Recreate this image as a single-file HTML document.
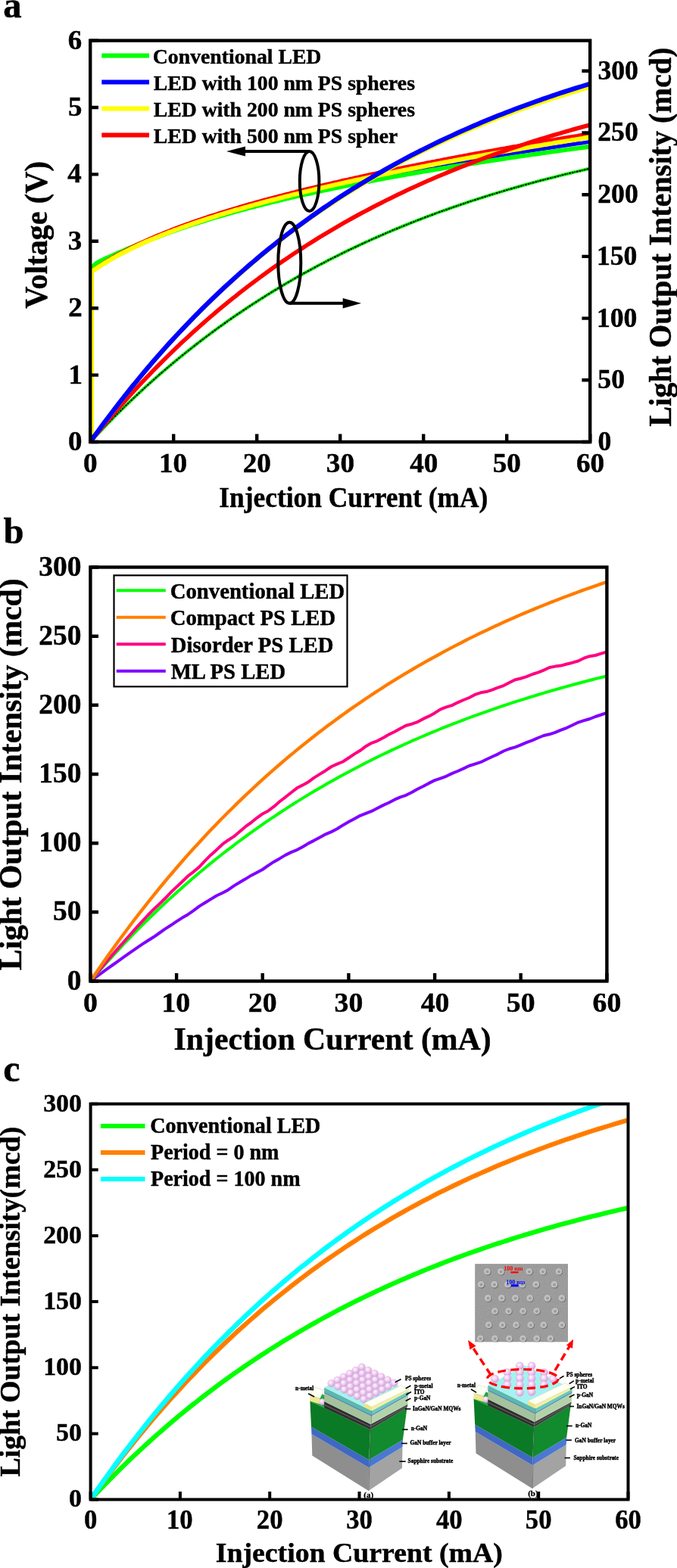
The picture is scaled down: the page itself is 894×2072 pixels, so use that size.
<!DOCTYPE html>
<html><head><meta charset="utf-8"><style>
html,body{margin:0;padding:0;background:#fff;width:894px;height:2072px;overflow:hidden}
svg{display:block}
text{font-family:'Liberation Serif',serif;font-weight:bold}
text.m{stroke:#000;stroke-width:0.45px}
</style></head><body>
<svg width="894" height="2072" viewBox="0 0 894 2072">
<rect width="894" height="2072" fill="#fff"/>
<text class="m" transform="translate(4.33 23.30) scale(1.0000 1)" font-size="48.80">a</text>
<g fill="none" stroke-linejoin="round" stroke-linecap="butt">
<path d="M121.0 584.0L120.9 359.0L124.2 356.7L127.5 354.5L130.8 352.3L134.1 350.2L137.4 348.1L140.7 346.1L144.0 344.2L147.3 342.2L150.6 340.4L153.9 338.5L157.2 336.8L160.5 335.0L163.9 333.3L167.2 331.6L170.5 330.0L173.8 328.3L177.1 326.8L180.4 325.2L183.7 323.7L187.0 322.2L190.3 320.7L193.6 319.2L196.9 317.8L200.2 316.4L203.6 315.0L206.9 313.6L210.2 312.3L213.5 311.0L216.8 309.6L220.1 308.4L223.4 307.1L226.7 305.8L230.0 304.6L233.3 303.4L236.6 302.2L239.9 301.0L243.3 299.8L246.6 298.6L249.9 297.5L253.2 296.3L256.5 295.2L259.8 294.1L263.1 293.0L266.4 291.9L269.7 290.8L273.0 289.8L276.3 288.7L279.6 287.7L283.0 286.6L286.3 285.6L289.6 284.6L292.9 283.6L296.2 282.6L299.5 281.6L302.8 280.7L306.1 279.7L309.4 278.7L312.7 277.8L316.0 276.8L319.3 275.9L322.7 275.0L326.0 274.1L329.3 273.2L332.6 272.3L335.9 271.4L339.2 270.5L342.5 269.6L345.8 268.7L349.1 267.9L352.4 267.0L355.7 266.1L359.0 265.3L362.4 264.5L365.7 263.6L369.0 262.8L372.3 262.0L375.6 261.2L378.9 260.3L382.2 259.5L385.5 258.7L388.8 257.9L392.1 257.2L395.4 256.4L398.7 255.6L402.1 254.8L405.4 254.0L408.7 253.3L412.0 252.5L415.3 251.8L418.6 251.0L421.9 250.3L425.2 249.5L428.5 248.8L431.8 248.1L435.1 247.3L438.4 246.6L441.8 245.9L445.1 245.2L448.4 244.5L451.7 243.8L455.0 243.1L458.3 242.4L461.6 241.7L464.9 241.0L468.2 240.3L471.5 239.6L474.8 238.9L478.1 238.2L481.5 237.6L484.8 236.9L488.1 236.2L491.4 235.6L494.7 234.9L498.0 234.2L501.3 233.6L504.6 232.9L507.9 232.3L511.2 231.7L514.5 231.0L517.8 230.4L521.2 229.7L524.5 229.1L527.8 228.5L531.1 227.9L534.4 227.2L537.7 226.6L541.0 226.0L544.3 225.4L547.6 224.8L550.9 224.2L554.2 223.6L557.5 222.9L560.9 222.3L564.2 221.8L567.5 221.2L570.8 220.6L574.1 220.0L577.4 219.4L580.7 218.8L584.0 218.2L587.3 217.6L590.6 217.1L593.9 216.5L597.2 215.9L600.6 215.3L603.9 214.8L607.2 214.2L610.5 213.6L613.8 213.1L617.1 212.5L620.4 212.0L623.7 211.4L627.0 210.9L630.3 210.3L633.6 209.8L636.9 209.2L640.3 208.7L643.6 208.1L646.9 207.6L650.2 207.0L653.5 206.5L656.8 206.0L660.1 205.4L663.4 204.9L666.7 204.4L670.0 203.8L673.3 203.3L676.6 202.8L680.0 202.3L683.3 201.8L686.6 201.2L689.9 200.7L693.2 200.2L696.5 199.7L699.8 199.2L703.1 198.7L706.4 198.2L709.7 197.7L713.0 197.2L716.3 196.7L719.7 196.2L723.0 195.7L726.3 195.2L729.6 194.7L732.9 194.2L736.2 193.7L739.5 193.2L742.8 192.7L746.1 192.2L749.4 191.7L752.7 191.3L756.0 190.8L759.4 190.3L762.7 189.8L766.0 189.3L769.3 188.9L772.6 188.4L775.9 187.9L779.2 187.4" stroke="#0000ff" stroke-width="5.0"/>
<path d="M121.0 584.0L120.9 355.8L124.2 350.7L127.5 347.8L130.8 345.8L134.1 344.2L137.4 342.6L140.7 341.1L144.0 339.7L147.3 338.2L150.6 336.7L153.9 335.3L157.2 333.8L160.5 332.4L163.9 331.0L167.2 329.5L170.5 328.1L173.8 326.7L177.1 325.4L180.4 324.0L183.7 322.6L187.0 321.3L190.3 319.9L193.6 318.6L196.9 317.3L200.2 316.0L203.6 314.7L206.9 313.4L210.2 312.2L213.5 310.9L216.8 309.7L220.1 308.5L223.4 307.3L226.7 306.1L230.0 304.9L233.3 303.8L236.6 302.6L239.9 301.5L243.3 300.3L246.6 299.2L249.9 298.1L253.2 297.0L256.5 296.0L259.8 294.9L263.1 293.8L266.4 292.8L269.7 291.8L273.0 290.7L276.3 289.7L279.6 288.7L283.0 287.7L286.3 286.7L289.6 285.8L292.9 284.8L296.2 283.8L299.5 282.9L302.8 282.0L306.1 281.0L309.4 280.1L312.7 279.2L316.0 278.3L319.3 277.4L322.7 276.5L326.0 275.6L329.3 274.7L332.6 273.9L335.9 273.0L339.2 272.2L342.5 271.3L345.8 270.5L349.1 269.6L352.4 268.8L355.7 268.0L359.0 267.2L362.4 266.4L365.7 265.6L369.0 264.8L372.3 264.0L375.6 263.2L378.9 262.4L382.2 261.7L385.5 260.9L388.8 260.1L392.1 259.4L395.4 258.6L398.7 257.9L402.1 257.1L405.4 256.4L408.7 255.7L412.0 255.0L415.3 254.2L418.6 253.5L421.9 252.8L425.2 252.1L428.5 251.4L431.8 250.7L435.1 250.0L438.4 249.3L441.8 248.6L445.1 248.0L448.4 247.3L451.7 246.6L455.0 245.9L458.3 245.3L461.6 244.6L464.9 244.0L468.2 243.3L471.5 242.7L474.8 242.0L478.1 241.4L481.5 240.7L484.8 240.1L488.1 239.5L491.4 238.8L494.7 238.2L498.0 237.6L501.3 237.0L504.6 236.4L507.9 235.7L511.2 235.1L514.5 234.5L517.8 233.9L521.2 233.3L524.5 232.7L527.8 232.1L531.1 231.5L534.4 231.0L537.7 230.4L541.0 229.8L544.3 229.2L547.6 228.6L550.9 228.1L554.2 227.5L557.5 226.9L560.9 226.4L564.2 225.8L567.5 225.2L570.8 224.7L574.1 224.1L577.4 223.6L580.7 223.0L584.0 222.5L587.3 221.9L590.6 221.4L593.9 220.8L597.2 220.3L600.6 219.8L603.9 219.2L607.2 218.7L610.5 218.2L613.8 217.6L617.1 217.1L620.4 216.6L623.7 216.1L627.0 215.5L630.3 215.0L633.6 214.5L636.9 214.0L640.3 213.5L643.6 213.0L646.9 212.5L650.2 212.0L653.5 211.5L656.8 211.0L660.1 210.5L663.4 210.0L666.7 209.5L670.0 209.0L673.3 208.5L676.6 208.0L680.0 207.5L683.3 207.0L686.6 206.5L689.9 206.1L693.2 205.6L696.5 205.1L699.8 204.6L703.1 204.1L706.4 203.7L709.7 203.2L713.0 202.7L716.3 202.3L719.7 201.8L723.0 201.3L726.3 200.9L729.6 200.4L732.9 199.9L736.2 199.5L739.5 199.0L742.8 198.6L746.1 198.1L749.4 197.6L752.7 197.2L756.0 196.7L759.4 196.3L762.7 195.9L766.0 195.4L769.3 195.0L772.6 194.5L775.9 194.1L779.2 193.6" stroke="#00ff00" stroke-width="6.0"/>
<path d="M121.0 584.0L120.9 358.8L124.2 356.3L127.5 354.0L130.8 351.7L134.1 349.5L137.4 347.4L140.7 345.3L144.0 343.3L147.3 341.3L150.6 339.4L153.9 337.5L157.2 335.7L160.5 333.9L163.9 332.1L167.2 330.4L170.5 328.7L173.8 327.0L177.1 325.4L180.4 323.8L183.7 322.2L187.0 320.7L190.3 319.2L193.6 317.7L196.9 316.2L200.2 314.7L203.6 313.3L206.9 311.9L210.2 310.5L213.5 309.2L216.8 307.8L220.1 306.5L223.4 305.2L226.7 303.9L230.0 302.6L233.3 301.3L236.6 300.1L239.9 298.9L243.3 297.7L246.6 296.4L249.9 295.3L253.2 294.1L256.5 292.9L259.8 291.8L263.1 290.6L266.4 289.5L269.7 288.4L273.0 287.3L276.3 286.2L279.6 285.1L283.0 284.1L286.3 283.0L289.6 281.9L292.9 280.9L296.2 279.9L299.5 278.9L302.8 277.8L306.1 276.8L309.4 275.8L312.7 274.9L316.0 273.9L319.3 272.9L322.7 271.9L326.0 271.0L329.3 270.0L332.6 269.1L335.9 268.2L339.2 267.2L342.5 266.3L345.8 265.4L349.1 264.5L352.4 263.6L355.7 262.7L359.0 261.8L362.4 260.9L365.7 260.1L369.0 259.2L372.3 258.3L375.6 257.5L378.9 256.6L382.2 255.8L385.5 254.9L388.8 254.1L392.1 253.2L395.4 252.4L398.7 251.6L402.1 250.8L405.4 250.0L408.7 249.2L412.0 248.4L415.3 247.6L418.6 246.8L421.9 246.0L425.2 245.2L428.5 244.4L431.8 243.6L435.1 242.9L438.4 242.1L441.8 241.3L445.1 240.6L448.4 239.8L451.7 239.0L455.0 238.3L458.3 237.6L461.6 236.8L464.9 236.1L468.2 235.3L471.5 234.6L474.8 233.9L478.1 233.1L481.5 232.4L484.8 231.7L488.1 231.0L491.4 230.3L494.7 229.6L498.0 228.9L501.3 228.2L504.6 227.5L507.9 226.8L511.2 226.1L514.5 225.4L517.8 224.7L521.2 224.0L524.5 223.3L527.8 222.6L531.1 222.0L534.4 221.3L537.7 220.6L541.0 219.9L544.3 219.3L547.6 218.6L550.9 217.9L554.2 217.3L557.5 216.6L560.9 216.0L564.2 215.3L567.5 214.7L570.8 214.0L574.1 213.4L577.4 212.7L580.7 212.1L584.0 211.4L587.3 210.8L590.6 210.2L593.9 209.5L597.2 208.9L600.6 208.3L603.9 207.6L607.2 207.0L610.5 206.4L613.8 205.8L617.1 205.2L620.4 204.5L623.7 203.9L627.0 203.3L630.3 202.7L633.6 202.1L636.9 201.5L640.3 200.9L643.6 200.3L646.9 199.7L650.2 199.1L653.5 198.5L656.8 197.9L660.1 197.3L663.4 196.7L666.7 196.1L670.0 195.5L673.3 194.9L676.6 194.3L680.0 193.7L683.3 193.2L686.6 192.6L689.9 192.0L693.2 191.4L696.5 190.8L699.8 190.3L703.1 189.7L706.4 189.1L709.7 188.5L713.0 188.0L716.3 187.4L719.7 186.8L723.0 186.3L726.3 185.7L729.6 185.1L732.9 184.6L736.2 184.0L739.5 183.5L742.8 182.9L746.1 182.3L749.4 181.8L752.7 181.2L756.0 180.7L759.4 180.1L762.7 179.6L766.0 179.0L769.3 178.5L772.6 177.9L775.9 177.4L779.2 176.8" stroke="#ff0000" stroke-width="5.5"/>
<path d="M121.0 584.0L120.9 359.0L124.2 356.7L127.5 354.5L130.8 352.3L134.1 350.2L137.4 348.1L140.7 346.1L144.0 344.2L147.3 342.2L150.6 340.4L153.9 338.5L157.2 336.7L160.5 335.0L163.9 333.3L167.2 331.6L170.5 329.9L173.8 328.3L177.1 326.7L180.4 325.1L183.7 323.6L187.0 322.1L190.3 320.6L193.6 319.1L196.9 317.7L200.2 316.3L203.6 314.9L206.9 313.5L210.2 312.2L213.5 310.8L216.8 309.5L220.1 308.2L223.4 306.9L226.7 305.7L230.0 304.4L233.3 303.2L236.6 302.0L239.9 300.8L243.3 299.6L246.6 298.4L249.9 297.2L253.2 296.1L256.5 294.9L259.8 293.8L263.1 292.7L266.4 291.6L269.7 290.5L273.0 289.4L276.3 288.4L279.6 287.3L283.0 286.3L286.3 285.2L289.6 284.2L292.9 283.2L296.2 282.2L299.5 281.2L302.8 280.2L306.1 279.2L309.4 278.2L312.7 277.2L316.0 276.3L319.3 275.3L322.7 274.4L326.0 273.5L329.3 272.5L332.6 271.6L335.9 270.7L339.2 269.8L342.5 268.9L345.8 268.0L349.1 267.1L352.4 266.2L355.7 265.3L359.0 264.5L362.4 263.6L365.7 262.8L369.0 261.9L372.3 261.1L375.6 260.2L378.9 259.4L382.2 258.6L385.5 257.7L388.8 256.9L392.1 256.1L395.4 255.3L398.7 254.5L402.1 253.7L405.4 252.9L408.7 252.1L412.0 251.3L415.3 250.5L418.6 249.7L421.9 249.0L425.2 248.2L428.5 247.4L431.8 246.7L435.1 245.9L438.4 245.2L441.8 244.4L445.1 243.7L448.4 242.9L451.7 242.2L455.0 241.5L458.3 240.7L461.6 240.0L464.9 239.3L468.2 238.5L471.5 237.8L474.8 237.1L478.1 236.4L481.5 235.7L484.8 235.0L488.1 234.3L491.4 233.6L494.7 232.9L498.0 232.2L501.3 231.5L504.6 230.8L507.9 230.1L511.2 229.5L514.5 228.8L517.8 228.1L521.2 227.4L524.5 226.8L527.8 226.1L531.1 225.4L534.4 224.8L537.7 224.1L541.0 223.5L544.3 222.8L547.6 222.2L550.9 221.5L554.2 220.9L557.5 220.2L560.9 219.6L564.2 218.9L567.5 218.3L570.8 217.7L574.1 217.0L577.4 216.4L580.7 215.8L584.0 215.1L587.3 214.5L590.6 213.9L593.9 213.3L597.2 212.7L600.6 212.0L603.9 211.4L607.2 210.8L610.5 210.2L613.8 209.6L617.1 209.0L620.4 208.4L623.7 207.8L627.0 207.2L630.3 206.6L633.6 206.0L636.9 205.4L640.3 204.8L643.6 204.2L646.9 203.6L650.2 203.0L653.5 202.4L656.8 201.9L660.1 201.3L663.4 200.7L666.7 200.1L670.0 199.5L673.3 199.0L676.6 198.4L680.0 197.8L683.3 197.2L686.6 196.7L689.9 196.1L693.2 195.5L696.5 195.0L699.8 194.4L703.1 193.8L706.4 193.3L709.7 192.7L713.0 192.2L716.3 191.6L719.7 191.0L723.0 190.5L726.3 189.9L729.6 189.4L732.9 188.8L736.2 188.3L739.5 187.7L742.8 187.2L746.1 186.6L749.4 186.1L752.7 185.6L756.0 185.0L759.4 184.5L762.7 183.9L766.0 183.4L769.3 182.9L772.6 182.3L775.9 181.8L779.2 181.3" stroke="#ffff00" stroke-width="6.0"/>
<path d="M119.2 584.0L124.7 578.1L130.2 572.2L135.7 566.5L141.2 560.8L146.7 555.2L152.2 549.6L157.7 544.2L163.2 538.8L168.7 533.4L174.2 528.2L179.7 523.0L185.2 517.9L190.7 512.8L196.2 507.8L201.7 502.9L207.2 498.0L212.7 493.2L218.2 488.5L223.7 483.8L229.2 479.2L234.7 474.6L240.2 470.1L245.7 465.7L251.2 461.3L256.7 457.0L262.2 452.7L267.7 448.5L273.2 444.3L278.7 440.2L284.2 436.1L289.7 432.1L295.2 428.2L300.7 424.3L306.2 420.4L311.7 416.6L317.2 412.9L322.7 409.2L328.2 405.5L333.7 401.9L339.2 398.4L344.7 394.9L350.2 391.4L355.7 388.0L361.2 384.6L366.7 381.3L372.2 378.0L377.7 374.7L383.2 371.5L388.7 368.3L394.2 365.2L399.7 362.1L405.2 359.1L410.7 356.1L416.2 353.1L421.7 350.2L427.2 347.3L432.7 344.4L438.2 341.6L443.7 338.9L449.2 336.1L454.7 333.4L460.2 330.7L465.7 328.1L471.2 325.5L476.7 322.9L482.2 320.4L487.7 317.9L493.2 315.4L498.7 313.0L504.2 310.6L509.7 308.2L515.2 305.8L520.7 303.5L526.2 301.2L531.7 299.0L537.2 296.7L542.7 294.5L548.2 292.4L553.7 290.2L559.2 288.1L564.7 286.0L570.2 284.0L575.7 281.9L581.2 279.9L586.7 278.0L592.2 276.0L597.7 274.1L603.2 272.2L608.7 270.3L614.2 268.4L619.7 266.6L625.2 264.8L630.7 263.0L636.2 261.2L641.7 259.5L647.2 257.8L652.7 256.1L658.2 254.4L663.7 252.8L669.2 251.1L674.7 249.5L680.2 247.9L685.7 246.4L691.2 244.8L696.7 243.3L702.2 241.8L707.7 240.3L713.2 238.8L718.7 237.4L724.2 236.0L729.7 234.6L735.2 233.2L740.7 231.8L746.2 230.4L751.7 229.1L757.2 227.8L762.7 226.5L768.2 225.2L773.7 223.9L779.2 222.6" stroke="#00ff00" stroke-width="4.2"/>
<path d="M119.2 584.0L124.7 578.1L130.2 572.2L135.7 566.5L141.2 560.8L146.7 555.2L152.2 549.6L157.7 544.2L163.2 538.8L168.7 533.4L174.2 528.2L179.7 523.0L185.2 517.9L190.7 512.8L196.2 507.8L201.7 502.9L207.2 498.0L212.7 493.2L218.2 488.5L223.7 483.8L229.2 479.2L234.7 474.6L240.2 470.1L245.7 465.7L251.2 461.3L256.7 457.0L262.2 452.7L267.7 448.5L273.2 444.3L278.7 440.2L284.2 436.1L289.7 432.1L295.2 428.2L300.7 424.3L306.2 420.4L311.7 416.6L317.2 412.9L322.7 409.2L328.2 405.5L333.7 401.9L339.2 398.4L344.7 394.9L350.2 391.4L355.7 388.0L361.2 384.6L366.7 381.3L372.2 378.0L377.7 374.7L383.2 371.5L388.7 368.3L394.2 365.2L399.7 362.1L405.2 359.1L410.7 356.1L416.2 353.1L421.7 350.2L427.2 347.3L432.7 344.4L438.2 341.6L443.7 338.9L449.2 336.1L454.7 333.4L460.2 330.7L465.7 328.1L471.2 325.5L476.7 322.9L482.2 320.4L487.7 317.9L493.2 315.4L498.7 313.0L504.2 310.6L509.7 308.2L515.2 305.8L520.7 303.5L526.2 301.2L531.7 299.0L537.2 296.7L542.7 294.5L548.2 292.4L553.7 290.2L559.2 288.1L564.7 286.0L570.2 284.0L575.7 281.9L581.2 279.9L586.7 278.0L592.2 276.0L597.7 274.1L603.2 272.2L608.7 270.3L614.2 268.4L619.7 266.6L625.2 264.8L630.7 263.0L636.2 261.2L641.7 259.5L647.2 257.8L652.7 256.1L658.2 254.4L663.7 252.8L669.2 251.1L674.7 249.5L680.2 247.9L685.7 246.4L691.2 244.8L696.7 243.3L702.2 241.8L707.7 240.3L713.2 238.8L718.7 237.4L724.2 236.0L729.7 234.6L735.2 233.2L740.7 231.8L746.2 230.4L751.7 229.1L757.2 227.8L762.7 226.5L768.2 225.2L773.7 223.9L779.2 222.6" stroke="#000" stroke-width="2.0" stroke-dasharray="2.6 0.9 1.4 1.1 3 1"/>
<path d="M119.2 584.0L124.7 577.2L130.2 570.5L135.7 563.8L141.2 557.3L146.7 550.8L152.2 544.4L157.7 538.1L163.2 531.9L168.7 525.7L174.2 519.6L179.7 513.7L185.2 507.7L190.7 501.9L196.2 496.1L201.7 490.4L207.2 484.8L212.7 479.3L218.2 473.8L223.7 468.4L229.2 463.1L234.7 457.8L240.2 452.6L245.7 447.5L251.2 442.4L256.7 437.4L262.2 432.5L267.7 427.6L273.2 422.8L278.7 418.0L284.2 413.3L289.7 408.7L295.2 404.1L300.7 399.6L306.2 395.2L311.7 390.8L317.2 386.4L322.7 382.1L328.2 377.9L333.7 373.7L339.2 369.6L344.7 365.5L350.2 361.5L355.7 357.5L361.2 353.6L366.7 349.8L372.2 345.9L377.7 342.2L383.2 338.5L388.7 334.8L394.2 331.2L399.7 327.6L405.2 324.0L410.7 320.6L416.2 317.1L421.7 313.7L427.2 310.4L432.7 307.1L438.2 303.8L443.7 300.6L449.2 297.4L454.7 294.2L460.2 291.1L465.7 288.0L471.2 285.0L476.7 282.0L482.2 279.1L487.7 276.2L493.2 273.3L498.7 270.5L504.2 267.7L509.7 264.9L515.2 262.2L520.7 259.5L526.2 256.8L531.7 254.2L537.2 251.6L542.7 249.0L548.2 246.5L553.7 244.0L559.2 241.5L564.7 239.1L570.2 236.7L575.7 234.3L581.2 232.0L586.7 229.7L592.2 227.4L597.7 225.2L603.2 222.9L608.7 220.7L614.2 218.6L619.7 216.4L625.2 214.3L630.7 212.2L636.2 210.2L641.7 208.2L647.2 206.2L652.7 204.2L658.2 202.2L663.7 200.3L669.2 198.4L674.7 196.5L680.2 194.7L685.7 192.8L691.2 191.0L696.7 189.2L702.2 187.5L707.7 185.7L713.2 184.0L718.7 182.3L724.2 180.6L729.7 179.0L735.2 177.4L740.7 175.8L746.2 174.2L751.7 172.6L757.2 171.0L762.7 169.5L768.2 168.0L773.7 166.5L779.2 165.0" stroke="#ff0000" stroke-width="5.5"/>
<path d="M119.2 584.5L124.7 576.8L130.2 569.2L135.7 561.7L141.2 554.3L146.7 547.0L152.2 539.8L157.7 532.7L163.2 525.6L168.7 518.7L174.2 511.8L179.7 505.1L185.2 498.4L190.7 491.8L196.2 485.3L201.7 478.9L207.2 472.6L212.7 466.3L218.2 460.1L223.7 454.0L229.2 448.0L234.7 442.1L240.2 436.2L245.7 430.4L251.2 424.7L256.7 419.1L262.2 413.5L267.7 408.0L273.2 402.6L278.7 397.3L284.2 392.0L289.7 386.8L295.2 381.6L300.7 376.5L306.2 371.5L311.7 366.6L317.2 361.7L322.7 356.9L328.2 352.1L333.7 347.4L339.2 342.8L344.7 338.2L350.2 333.7L355.7 329.2L361.2 324.8L366.7 320.5L372.2 316.2L377.7 312.0L383.2 307.8L388.7 303.7L394.2 299.6L399.7 295.6L405.2 291.6L410.7 287.7L416.2 283.8L421.7 280.0L427.2 276.3L432.7 272.6L438.2 268.9L443.7 265.3L449.2 261.7L454.7 258.2L460.2 254.7L465.7 251.3L471.2 247.9L476.7 244.6L482.2 241.3L487.7 238.0L493.2 234.8L498.7 231.6L504.2 228.5L509.7 225.4L515.2 222.4L520.7 219.4L526.2 216.4L531.7 213.5L537.2 210.6L542.7 207.7L548.2 204.9L553.7 202.1L559.2 199.4L564.7 196.7L570.2 194.0L575.7 191.4L581.2 188.8L586.7 186.2L592.2 183.7L597.7 181.2L603.2 178.7L608.7 176.3L614.2 173.9L619.7 171.5L625.2 169.2L630.7 166.9L636.2 164.6L641.7 162.4L647.2 160.2L652.7 158.0L658.2 155.8L663.7 153.7L669.2 151.6L674.7 149.6L680.2 147.5L685.7 145.5L691.2 143.5L696.7 141.6L702.2 139.6L707.7 137.7L713.2 135.8L718.7 134.0L724.2 132.1L729.7 130.3L735.2 128.6L740.7 126.8L746.2 125.1L751.7 123.3L757.2 121.7L762.7 120.0L768.2 118.4L773.7 116.7L779.2 115.1" stroke="#ffff00" stroke-width="5.5"/>
<path d="M119.2 584.0L124.7 576.3L130.2 568.7L135.7 561.2L141.2 553.8L146.7 546.5L152.2 539.3L157.7 532.1L163.2 525.1L168.7 518.2L174.2 511.3L179.7 504.6L185.2 497.9L190.7 491.3L196.2 484.8L201.7 478.3L207.2 472.0L212.7 465.7L218.2 459.5L223.7 453.4L229.2 447.4L234.7 441.5L240.2 435.6L245.7 429.8L251.2 424.1L256.7 418.4L262.2 412.8L267.7 407.3L273.2 401.9L278.7 396.5L284.2 391.2L289.7 386.0L295.2 380.8L300.7 375.7L306.2 370.7L311.7 365.7L317.2 360.8L322.7 356.0L328.2 351.2L333.7 346.5L339.2 341.8L344.7 337.2L350.2 332.7L355.7 328.2L361.2 323.8L366.7 319.4L372.2 315.1L377.7 310.9L383.2 306.7L388.7 302.5L394.2 298.4L399.7 294.4L405.2 290.4L410.7 286.4L416.2 282.6L421.7 278.7L427.2 274.9L432.7 271.2L438.2 267.5L443.7 263.8L449.2 260.2L454.7 256.7L460.2 253.2L465.7 249.7L471.2 246.3L476.7 242.9L482.2 239.6L487.7 236.3L493.2 233.0L498.7 229.8L504.2 226.7L509.7 223.5L515.2 220.5L520.7 217.4L526.2 214.4L531.7 211.4L537.2 208.5L542.7 205.6L548.2 202.8L553.7 199.9L559.2 197.2L564.7 194.4L570.2 191.7L575.7 189.0L581.2 186.4L586.7 183.8L592.2 181.2L597.7 178.7L603.2 176.1L608.7 173.7L614.2 171.2L619.7 168.8L625.2 166.4L630.7 164.1L636.2 161.7L641.7 159.4L647.2 157.2L652.7 154.9L658.2 152.7L663.7 150.6L669.2 148.4L674.7 146.3L680.2 144.2L685.7 142.1L691.2 140.1L696.7 138.1L702.2 136.1L707.7 134.1L713.2 132.2L718.7 130.2L724.2 128.4L729.7 126.5L735.2 124.6L740.7 122.8L746.2 121.0L751.7 119.3L757.2 117.5L762.7 115.8L768.2 114.1L773.7 112.4L779.2 110.7" stroke="#0000ff" stroke-width="6.2"/>
</g>
<rect x="119.2" y="53.6" width="660.0" height="530.4" fill="none" stroke="#000" stroke-width="4.4"/>
<text class="m" transform="translate(89.97 595.03) scale(1.0300 1)" font-size="35.80">0</text>
<text class="m" transform="translate(90.47 506.63) scale(1.0300 1)" font-size="35.80">1</text>
<text class="m" transform="translate(90.15 418.23) scale(1.0300 1)" font-size="35.80">2</text>
<text class="m" transform="translate(89.82 329.83) scale(1.0300 1)" font-size="35.80">3</text>
<text class="m" transform="translate(89.25 241.43) scale(1.0300 1)" font-size="35.80">4</text>
<text class="m" transform="translate(89.91 153.03) scale(1.0300 1)" font-size="35.80">5</text>
<text class="m" transform="translate(89.64 64.63) scale(1.0300 1)" font-size="35.80">6</text>
<text class="m" transform="translate(789.44 594.96) scale(1.0100 1)" font-size="35.30">0</text>
<text class="m" transform="translate(789.37 513.26) scale(1.0100 1)" font-size="35.30">50</text>
<text class="m" transform="translate(787.94 431.56) scale(1.0100 1)" font-size="35.30">100</text>
<text class="m" transform="translate(787.94 349.86) scale(1.0100 1)" font-size="35.30">150</text>
<text class="m" transform="translate(789.30 268.16) scale(1.0100 1)" font-size="35.30">200</text>
<text class="m" transform="translate(789.30 186.46) scale(1.0100 1)" font-size="35.30">250</text>
<text class="m" transform="translate(789.46 104.76) scale(1.0100 1)" font-size="35.30">300</text>
<text class="m" transform="translate(110.11 623.66) scale(1.0350 1)" font-size="35.90">0</text>
<text class="m" transform="translate(210.04 623.66) scale(1.0350 1)" font-size="35.90">10</text>
<text class="m" transform="translate(320.75 623.66) scale(1.0350 1)" font-size="35.90">20</text>
<text class="m" transform="translate(430.83 623.66) scale(1.0350 1)" font-size="35.90">30</text>
<text class="m" transform="translate(541.28 623.66) scale(1.0350 1)" font-size="35.90">40</text>
<text class="m" transform="translate(650.79 623.66) scale(1.0350 1)" font-size="35.90">50</text>
<text class="m" transform="translate(760.89 623.66) scale(1.0350 1)" font-size="35.90">60</text>
<path d="M119.2 584.0H130M119.2 495.6H130M119.2 407.2H130M119.2 318.8H130M119.2 230.4H130M119.2 142.0H130M119.2 53.6H130M779.2 584.0H768.4M779.2 502.3H768.4M779.2 420.6H768.4M779.2 338.9H768.4M779.2 257.2H768.4M779.2 175.5H768.4M779.2 93.8H768.4M119.2 584.0V573.4M229.2 584.0V573.4M339.2 584.0V573.4M449.2 584.0V573.4M559.2 584.0V573.4M669.2 584.0V573.4M779.2 584.0V573.4" stroke="#000" stroke-width="4.4"/>
<text class="m" transform="translate(289.31 670.00) scale(0.9567 1)" font-size="37.00">Injection Current (mA)</text>
<text class="m" transform="translate(62.40 407.85) rotate(-90) scale(0.9612 1)" font-size="42.00">Voltage (V)</text>
<text class="m" transform="translate(885.70 563.79) rotate(-90) scale(0.9504 1)" font-size="42.30">Light Output Intensity (mcd)</text>
<path d="M134.3 73.5H197" stroke="#00ff00" stroke-width="6"/>
<text class="m" transform="translate(201.85 83.50) scale(0.9800 1)" font-size="28.30">Conventional LED</text>
<path d="M134.3 108.5H197" stroke="#0000ff" stroke-width="6"/>
<text class="m" transform="translate(202.73 118.50) scale(0.9800 1)" font-size="28.30">LED with 100 nm PS spheres</text>
<path d="M134.3 143.5H197" stroke="#ffff00" stroke-width="6"/>
<text class="m" transform="translate(202.73 153.50) scale(0.9800 1)" font-size="28.30">LED with 200 nm PS spheres</text>
<path d="M134.3 178.5H197" stroke="#ff0000" stroke-width="6"/>
<text class="m" transform="translate(202.73 188.50) scale(0.9800 1)" font-size="28.30">LED with 500 nm PS spher</text>
<ellipse cx="408.6" cy="239.5" rx="12.8" ry="39.5" fill="none" stroke="#000" stroke-width="4"/>
<path d="M408.6 200H318" stroke="#000" stroke-width="4"/>
<path d="M299 200L324 193.5L324 206.5Z" fill="#000"/>
<ellipse cx="382.3" cy="347.3" rx="15" ry="53.5" fill="none" stroke="#000" stroke-width="4"/>
<path d="M382.3 400.8H458" stroke="#000" stroke-width="4"/>
<path d="M477 400.8L452.7 394L452.7 407.5Z" fill="#000"/>
<text class="m" transform="translate(4.38 717.60) scale(1.0000 1)" font-size="48.60">b</text>
<g fill="none" stroke-linejoin="round">
<path d="M119.4 1296.5L127.0 1290.9L134.6 1285.4L142.1 1279.9L149.7 1274.5L157.3 1269.1L164.9 1263.7L172.4 1258.3L180.0 1253.1L187.6 1247.9L195.2 1243.0L202.8 1238.3L210.3 1233.0L217.9 1227.6L225.5 1222.8L233.1 1217.7L240.6 1212.8L248.2 1208.4L255.8 1203.2L263.4 1197.4L271.0 1192.7L278.5 1188.1L286.1 1183.5L293.7 1180.0L301.3 1175.9L308.8 1170.6L316.4 1166.0L324.0 1161.6L331.6 1156.9L339.2 1152.9L346.7 1149.0L354.3 1143.7L361.9 1138.7L369.5 1134.4L377.0 1129.9L384.6 1126.1L392.2 1123.1L399.8 1119.0L407.4 1114.4L414.9 1110.6L422.5 1106.4L430.1 1102.3L437.7 1099.1L445.2 1095.3L452.8 1090.4L460.4 1086.1L468.0 1082.0L475.6 1077.8L483.1 1074.8L490.7 1071.9L498.3 1067.9L505.9 1064.1L513.4 1060.7L521.0 1056.7L528.6 1053.4L536.2 1050.8L543.8 1047.0L551.3 1042.7L558.9 1039.0L566.5 1034.9L574.1 1031.1L581.6 1028.7L589.2 1025.8L596.8 1022.1L604.4 1019.0L612.0 1015.6L619.5 1012.0L627.1 1009.6L634.7 1007.2L642.3 1003.5L649.8 1000.0L657.4 996.6L665.0 992.5L672.6 989.5L680.2 987.3L687.7 984.3L695.3 981.1L702.9 978.4L710.5 975.0L718.0 972.0L725.6 970.3L733.2 967.8L740.8 964.6L748.4 961.8L755.9 958.3L763.5 954.6L771.1 952.2L778.7 950.0L786.2 947.0L793.8 944.5L801.4 941.8" stroke="#8000ff" stroke-width="4"/>
<path d="M119.4 1296.5L125.1 1289.9L130.8 1283.4L136.5 1277.0L142.1 1270.6L147.8 1264.3L153.5 1258.2L159.2 1252.1L164.9 1246.0L170.6 1240.1L176.2 1234.2L181.9 1228.4L187.6 1222.7L193.3 1217.0L199.0 1211.5L204.7 1206.0L210.3 1200.5L216.0 1195.2L221.7 1189.9L227.4 1184.7L233.1 1179.5L238.8 1174.4L244.4 1169.4L250.1 1164.5L255.8 1159.6L261.5 1154.7L267.2 1150.0L272.9 1145.3L278.5 1140.6L284.2 1136.0L289.9 1131.5L295.6 1127.0L301.3 1122.6L307.0 1118.3L312.6 1114.0L318.3 1109.8L324.0 1105.6L329.7 1101.4L335.4 1097.4L341.1 1093.3L346.7 1089.4L352.4 1085.4L358.1 1081.6L363.8 1077.8L369.5 1074.0L375.1 1070.3L380.8 1066.6L386.5 1063.0L392.2 1059.4L397.9 1055.9L403.6 1052.4L409.2 1048.9L414.9 1045.5L420.6 1042.2L426.3 1038.9L432.0 1035.6L437.7 1032.4L443.4 1029.2L449.0 1026.0L454.7 1022.9L460.4 1019.9L466.1 1016.9L471.8 1013.9L477.5 1010.9L483.1 1008.0L488.8 1005.2L494.5 1002.3L500.2 999.5L505.9 996.8L511.5 994.1L517.2 991.4L522.9 988.7L528.6 986.1L534.3 983.5L540.0 981.0L545.6 978.4L551.3 976.0L557.0 973.5L562.7 971.1L568.4 968.7L574.1 966.3L579.8 964.0L585.4 961.7L591.1 959.4L596.8 957.2L602.5 955.0L608.2 952.8L613.9 950.7L619.5 948.5L625.2 946.4L630.9 944.4L636.6 942.3L642.3 940.3L647.9 938.3L653.6 936.3L659.3 934.4L665.0 932.5L670.7 930.6L676.4 928.7L682.0 926.9L687.7 925.1L693.4 923.3L699.1 921.5L704.8 919.8L710.5 918.0L716.1 916.3L721.8 914.6L727.5 913.0L733.2 911.3L738.9 909.7L744.6 908.1L750.2 906.6L755.9 905.0L761.6 903.5L767.3 902.0L773.0 900.5L778.7 899.0L784.4 897.5L790.0 896.1L795.7 894.7L801.4 893.3" stroke="#00ff00" stroke-width="4"/>
<path d="M119.4 1296.5L127.0 1287.2L134.6 1278.0L142.1 1269.0L149.7 1260.2L157.3 1251.5L164.9 1243.0L172.4 1234.5L180.0 1225.9L187.6 1217.7L195.2 1209.5L202.8 1201.7L210.3 1194.7L217.9 1187.3L225.5 1179.3L233.1 1172.1L240.6 1165.0L248.2 1157.7L255.8 1151.8L263.4 1145.4L271.0 1137.2L278.5 1129.7L286.1 1122.9L293.7 1115.7L301.3 1110.2L308.8 1105.4L316.4 1098.9L324.0 1092.4L331.6 1087.0L339.2 1080.8L346.7 1075.4L354.3 1071.4L361.9 1065.7L369.5 1059.0L377.0 1053.3L384.6 1047.2L392.2 1041.3L399.8 1037.4L407.4 1033.2L414.9 1027.6L422.5 1022.9L430.1 1018.2L437.7 1013.0L445.2 1009.6L452.8 1006.5L460.4 1001.5L468.0 996.4L475.6 991.8L483.1 986.2L490.7 981.8L498.3 979.1L505.9 975.1L513.4 970.6L521.0 967.0L528.6 962.7L536.2 958.7L543.8 956.7L551.3 954.1L558.9 949.9L566.5 946.4L574.1 942.2L581.6 937.3L589.2 934.4L596.8 932.1L604.4 928.3L612.0 925.0L619.5 922.0L627.1 917.9L634.7 915.3L642.3 914.1L649.8 911.6L657.4 908.7L665.0 906.1L672.6 902.1L680.2 898.3L687.7 896.5L695.3 894.1L702.9 891.0L710.5 888.7L718.0 885.6L725.6 882.0L733.2 880.6L740.8 879.6L748.4 877.5L755.9 875.7L763.5 873.5L771.1 869.7L778.7 867.2L786.2 866.0L793.8 863.6L801.4 861.3" stroke="#ff0080" stroke-width="4"/>
<path d="M119.4 1296.5L125.1 1288.1L130.8 1279.8L136.5 1271.6L142.1 1263.5L147.8 1255.5L153.5 1247.6L159.2 1239.8L164.9 1232.2L170.6 1224.5L176.2 1217.0L181.9 1209.6L187.6 1202.3L193.3 1195.1L199.0 1187.9L204.7 1180.9L210.3 1173.9L216.0 1167.0L221.7 1160.2L227.4 1153.5L233.1 1146.8L238.8 1140.3L244.4 1133.8L250.1 1127.4L255.8 1121.1L261.5 1114.9L267.2 1108.7L272.9 1102.6L278.5 1096.6L284.2 1090.7L289.9 1084.8L295.6 1079.0L301.3 1073.3L307.0 1067.7L312.6 1062.1L318.3 1056.6L324.0 1051.2L329.7 1045.8L335.4 1040.5L341.1 1035.2L346.7 1030.1L352.4 1024.9L358.1 1019.9L363.8 1014.9L369.5 1010.0L375.1 1005.1L380.8 1000.3L386.5 995.6L392.2 990.9L397.9 986.2L403.6 981.7L409.2 977.2L414.9 972.7L420.6 968.3L426.3 963.9L432.0 959.6L437.7 955.4L443.4 951.2L449.0 947.1L454.7 943.0L460.4 938.9L466.1 934.9L471.8 931.0L477.5 927.1L483.1 923.3L488.8 919.5L494.5 915.7L500.2 912.0L505.9 908.3L511.5 904.7L517.2 901.2L522.9 897.6L528.6 894.2L534.3 890.7L540.0 887.3L545.6 884.0L551.3 880.7L557.0 877.4L562.7 874.2L568.4 871.0L574.1 867.8L579.8 864.7L585.4 861.6L591.1 858.6L596.8 855.6L602.5 852.6L608.2 849.7L613.9 846.8L619.5 843.9L625.2 841.1L630.9 838.3L636.6 835.6L642.3 832.9L647.9 830.2L653.6 827.5L659.3 824.9L665.0 822.3L670.7 819.8L676.4 817.3L682.0 814.8L687.7 812.3L693.4 809.9L699.1 807.5L704.8 805.1L710.5 802.8L716.1 800.5L721.8 798.2L727.5 795.9L733.2 793.7L738.9 791.5L744.6 789.3L750.2 787.2L755.9 785.1L761.6 783.0L767.3 780.9L773.0 778.8L778.7 776.8L784.4 774.8L790.0 772.9L795.7 770.9L801.4 769.0" stroke="#ff8000" stroke-width="4.4"/>
<path d="M119.4 1296.5L125.1 1288.1L130.8 1279.8L136.5 1271.6L142.1 1263.5L147.8 1255.5L153.5 1247.6L159.2 1239.8L164.9 1232.2L170.6 1224.5L176.2 1217.0L181.9 1209.6L187.6 1202.3L193.3 1195.1L199.0 1187.9L204.7 1180.9L210.3 1173.9L216.0 1167.0L221.7 1160.2L227.4 1153.5L233.1 1146.8L238.8 1140.3L244.4 1133.8L250.1 1127.4L255.8 1121.1L261.5 1114.9L267.2 1108.7L272.9 1102.6L278.5 1096.6L284.2 1090.7L289.9 1084.8L295.6 1079.0L301.3 1073.3L307.0 1067.7L312.6 1062.1L318.3 1056.6L324.0 1051.2L329.7 1045.8L335.4 1040.5L341.1 1035.2L346.7 1030.1L352.4 1024.9L358.1 1019.9L363.8 1014.9L369.5 1010.0L375.1 1005.1L380.8 1000.3L386.5 995.6L392.2 990.9L397.9 986.2L403.6 981.7L409.2 977.2L414.9 972.7L420.6 968.3L426.3 963.9L432.0 959.6L437.7 955.4L443.4 951.2L449.0 947.1L454.7 943.0L460.4 938.9L466.1 934.9L471.8 931.0L477.5 927.1L483.1 923.3L488.8 919.5L494.5 915.7L500.2 912.0L505.9 908.3L511.5 904.7L517.2 901.2L522.9 897.6L528.6 894.2L534.3 890.7L540.0 887.3L545.6 884.0L551.3 880.7L557.0 877.4L562.7 874.2L568.4 871.0L574.1 867.8L579.8 864.7L585.4 861.6L591.1 858.6L596.8 855.6L602.5 852.6L608.2 849.7L613.9 846.8L619.5 843.9L625.2 841.1L630.9 838.3L636.6 835.6L642.3 832.9L647.9 830.2L653.6 827.5L659.3 824.9L665.0 822.3L670.7 819.8L676.4 817.3L682.0 814.8L687.7 812.3L693.4 809.9L699.1 807.5L704.8 805.1L710.5 802.8L716.1 800.5L721.8 798.2L727.5 795.9L733.2 793.7L738.9 791.5L744.6 789.3L750.2 787.2L755.9 785.1L761.6 783.0L767.3 780.9L773.0 778.8L778.7 776.8L784.4 774.8L790.0 772.9L795.7 770.9L801.4 769.0" stroke="#ff3000" stroke-width="1.1" stroke-dasharray="1 2.4" opacity="0.5"/>
</g>
<rect x="119.4" y="749.5" width="682.0" height="547.0" fill="none" stroke="#000" stroke-width="4.4"/>
<text class="m" transform="translate(88.72 1307.55) scale(1.0000 1)" font-size="37.40">0</text>
<text class="m" transform="translate(70.02 1216.39) scale(1.0000 1)" font-size="37.40">50</text>
<text class="m" transform="translate(51.32 1125.22) scale(1.0000 1)" font-size="37.40">100</text>
<text class="m" transform="translate(51.32 1034.05) scale(1.0000 1)" font-size="37.40">150</text>
<text class="m" transform="translate(51.32 942.89) scale(1.0000 1)" font-size="37.40">200</text>
<text class="m" transform="translate(51.32 851.72) scale(1.0000 1)" font-size="37.40">250</text>
<text class="m" transform="translate(51.32 760.55) scale(1.0000 1)" font-size="37.40">300</text>
<text class="m" transform="translate(109.98 1337.19) scale(1.0300 1)" font-size="36.60">0</text>
<text class="m" transform="translate(213.43 1337.19) scale(1.0300 1)" font-size="36.60">10</text>
<text class="m" transform="translate(327.81 1337.19) scale(1.0300 1)" font-size="36.60">20</text>
<text class="m" transform="translate(441.56 1337.19) scale(1.0300 1)" font-size="36.60">30</text>
<text class="m" transform="translate(555.68 1337.19) scale(1.0300 1)" font-size="36.60">40</text>
<text class="m" transform="translate(668.85 1337.19) scale(1.0300 1)" font-size="36.60">50</text>
<text class="m" transform="translate(782.62 1337.19) scale(1.0300 1)" font-size="36.60">60</text>
<path d="M119.4 1296.5H130M119.4 1205.3H130M119.4 1114.2H130M119.4 1023.0H130M119.4 931.8H130M119.4 840.7H130M119.4 749.5H130M119.4 1296.5V1286M233.1 1296.5V1286M346.7 1296.5V1286M460.4 1296.5V1286M574.1 1296.5V1286M687.7 1296.5V1286M801.4 1296.5V1286" stroke="#000" stroke-width="4.4"/>
<text class="m" transform="translate(229.59 1387.00) scale(0.9946 1)" font-size="42.00">Injection Current (mA)</text>
<text class="m" transform="translate(28.20 1282.21) rotate(-90) scale(0.9884 1)" font-size="42.00">Light Output Intensity (mcd)</text>
<rect x="150.5" y="760.3" width="308" height="147" fill="#fff" stroke="#000" stroke-width="2.2"/>
<path d="M153.7 780.3H218.8" stroke="#00ff00" stroke-width="4"/>
<text class="m" transform="translate(224.80 790.60) scale(0.9600 1)" font-size="29.90">Conventional LED</text>
<path d="M153.7 815.8H218.8" stroke="#ff8000" stroke-width="4"/>
<text class="m" transform="translate(224.80 826.10) scale(0.9600 1)" font-size="29.90">Compact PS LED</text>
<path d="M153.7 851.3H218.8" stroke="#ff0080" stroke-width="4"/>
<text class="m" transform="translate(225.70 861.60) scale(0.9600 1)" font-size="29.90">Disorder PS LED</text>
<path d="M153.7 886.8H218.8" stroke="#8000ff" stroke-width="4"/>
<text class="m" transform="translate(225.71 897.10) scale(0.9600 1)" font-size="29.90">ML PS LED</text>
<text class="m" transform="translate(4.19 1429.20) scale(1.0000 1)" font-size="50.00">c</text>
<defs><clipPath id="cc"><rect x="119.6" y="1458.7" width="709.9" height="522.8"/></clipPath></defs>
<g fill="none" stroke-linejoin="round" clip-path="url(#cc)">
<path d="M119.6 1981.5L125.5 1975.2L131.4 1969.0L137.3 1962.8L143.3 1956.8L149.2 1950.8L155.1 1944.9L161.0 1939.0L166.9 1933.3L172.8 1927.6L178.8 1922.0L184.7 1916.4L190.6 1911.0L196.5 1905.6L202.4 1900.2L208.3 1895.0L214.3 1889.8L220.2 1884.7L226.1 1879.6L232.0 1874.6L237.9 1869.7L243.8 1864.8L249.7 1860.0L255.7 1855.3L261.6 1850.6L267.5 1846.0L273.4 1841.5L279.3 1837.0L285.2 1832.5L291.2 1828.1L297.1 1823.8L303.0 1819.5L308.9 1815.3L314.8 1811.2L320.7 1807.1L326.7 1803.0L332.6 1799.0L338.5 1795.1L344.4 1791.2L350.3 1787.3L356.2 1783.5L362.1 1779.8L368.1 1776.1L374.0 1772.4L379.9 1768.8L385.8 1765.3L391.7 1761.8L397.6 1758.3L403.6 1754.9L409.5 1751.5L415.4 1748.2L421.3 1744.9L427.2 1741.6L433.1 1738.4L439.1 1735.3L445.0 1732.1L450.9 1729.1L456.8 1726.0L462.7 1723.0L468.6 1720.0L474.5 1717.1L480.5 1714.2L486.4 1711.4L492.3 1708.6L498.2 1705.8L504.1 1703.1L510.0 1700.3L516.0 1697.7L521.9 1695.0L527.8 1692.4L533.7 1689.9L539.6 1687.3L545.5 1684.8L551.5 1682.4L557.4 1679.9L563.3 1677.5L569.2 1675.1L575.1 1672.8L581.0 1670.5L587.0 1668.2L592.9 1665.9L598.8 1663.7L604.7 1661.5L610.6 1659.4L616.5 1657.2L622.4 1655.1L628.4 1653.0L634.3 1651.0L640.2 1648.9L646.1 1646.9L652.0 1644.9L657.9 1643.0L663.9 1641.1L669.8 1639.2L675.7 1637.3L681.6 1635.4L687.5 1633.6L693.4 1631.8L699.4 1630.0L705.3 1628.2L711.2 1626.5L717.1 1624.8L723.0 1623.1L728.9 1621.4L734.8 1619.8L740.8 1618.1L746.7 1616.5L752.6 1615.0L758.5 1613.4L764.4 1611.8L770.3 1610.3L776.3 1608.8L782.2 1607.3L788.1 1605.9L794.0 1604.4L799.9 1603.0L805.8 1601.6L811.8 1600.2L817.7 1598.8L823.6 1597.4L829.5 1596.1" stroke="#00ff00" stroke-width="6.2"/>
<path d="M119.6 1981.5L125.5 1973.2L131.4 1965.0L137.3 1956.9L143.3 1949.0L149.2 1941.1L155.1 1933.3L161.0 1925.7L166.9 1918.1L172.8 1910.7L178.8 1903.3L184.7 1896.0L190.6 1888.9L196.5 1881.8L202.4 1874.8L208.3 1867.9L214.3 1861.1L220.2 1854.4L226.1 1847.8L232.0 1841.3L237.9 1834.8L243.8 1828.4L249.7 1822.2L255.7 1816.0L261.6 1809.9L267.5 1803.8L273.4 1797.9L279.3 1792.0L285.2 1786.2L291.2 1780.5L297.1 1774.8L303.0 1769.2L308.9 1763.8L314.8 1758.3L320.7 1753.0L326.7 1747.7L332.6 1742.5L338.5 1737.3L344.4 1732.2L350.3 1727.2L356.2 1722.3L362.1 1717.4L368.1 1712.6L374.0 1707.8L379.9 1703.2L385.8 1698.5L391.7 1694.0L397.6 1689.4L403.6 1685.0L409.5 1680.6L415.4 1676.3L421.3 1672.0L427.2 1667.8L433.1 1663.6L439.1 1659.5L445.0 1655.5L450.9 1651.5L456.8 1647.5L462.7 1643.6L468.6 1639.8L474.5 1636.0L480.5 1632.2L486.4 1628.5L492.3 1624.9L498.2 1621.3L504.1 1617.8L510.0 1614.3L516.0 1610.8L521.9 1607.4L527.8 1604.0L533.7 1600.7L539.6 1597.4L545.5 1594.2L551.5 1591.0L557.4 1587.8L563.3 1584.7L569.2 1581.7L575.1 1578.6L581.0 1575.6L587.0 1572.7L592.9 1569.8L598.8 1566.9L604.7 1564.1L610.6 1561.3L616.5 1558.5L622.4 1555.8L628.4 1553.1L634.3 1550.5L640.2 1547.9L646.1 1545.3L652.0 1542.7L657.9 1540.2L663.9 1537.7L669.8 1535.3L675.7 1532.9L681.6 1530.5L687.5 1528.1L693.4 1525.8L699.4 1523.5L705.3 1521.3L711.2 1519.0L717.1 1516.8L723.0 1514.6L728.9 1512.5L734.8 1510.4L740.8 1508.3L746.7 1506.2L752.6 1504.2L758.5 1502.2L764.4 1500.2L770.3 1498.3L776.3 1496.3L782.2 1494.4L788.1 1492.5L794.0 1490.7L799.9 1488.9L805.8 1487.1L811.8 1485.3L817.7 1483.5L823.6 1481.8L829.5 1480.1" stroke="#ff8000" stroke-width="6.2"/>
<path d="M119.6 1981.5L125.5 1973.2L131.4 1965.0L137.3 1956.9L143.3 1949.0L149.2 1941.1L155.1 1933.3L161.0 1925.7L166.9 1918.1L172.8 1910.7L178.8 1903.3L184.7 1896.0L190.6 1888.9L196.5 1881.8L202.4 1874.8L208.3 1867.9L214.3 1861.1L220.2 1854.4L226.1 1847.8L232.0 1841.3L237.9 1834.8L243.8 1828.4L249.7 1822.2L255.7 1816.0L261.6 1809.9L267.5 1803.8L273.4 1797.9L279.3 1792.0L285.2 1786.2L291.2 1780.5L297.1 1774.8L303.0 1769.2L308.9 1763.8L314.8 1758.3L320.7 1753.0L326.7 1747.7L332.6 1742.5L338.5 1737.3L344.4 1732.2L350.3 1727.2L356.2 1722.3L362.1 1717.4L368.1 1712.6L374.0 1707.8L379.9 1703.2L385.8 1698.5L391.7 1694.0L397.6 1689.4L403.6 1685.0L409.5 1680.6L415.4 1676.3L421.3 1672.0L427.2 1667.8L433.1 1663.6L439.1 1659.5L445.0 1655.5L450.9 1651.5L456.8 1647.5L462.7 1643.6L468.6 1639.8L474.5 1636.0L480.5 1632.2L486.4 1628.5L492.3 1624.9L498.2 1621.3L504.1 1617.8L510.0 1614.3L516.0 1610.8L521.9 1607.4L527.8 1604.0L533.7 1600.7L539.6 1597.4L545.5 1594.2L551.5 1591.0L557.4 1587.8L563.3 1584.7L569.2 1581.7L575.1 1578.6L581.0 1575.6L587.0 1572.7L592.9 1569.8L598.8 1566.9L604.7 1564.1L610.6 1561.3L616.5 1558.5L622.4 1555.8L628.4 1553.1L634.3 1550.5L640.2 1547.9L646.1 1545.3L652.0 1542.7L657.9 1540.2L663.9 1537.7L669.8 1535.3L675.7 1532.9L681.6 1530.5L687.5 1528.1L693.4 1525.8L699.4 1523.5L705.3 1521.3L711.2 1519.0L717.1 1516.8L723.0 1514.6L728.9 1512.5L734.8 1510.4L740.8 1508.3L746.7 1506.2L752.6 1504.2L758.5 1502.2L764.4 1500.2L770.3 1498.3L776.3 1496.3L782.2 1494.4L788.1 1492.5L794.0 1490.7L799.9 1488.9L805.8 1487.1L811.8 1485.3L817.7 1483.5L823.6 1481.8L829.5 1480.1" stroke="#ff3000" stroke-width="1.3" stroke-dasharray="1.1 2.6" opacity="0.55"/>
<path d="M119.6 1981.5L125.5 1972.9L131.4 1964.4L137.3 1956.0L143.3 1947.8L149.2 1939.6L155.1 1931.5L161.0 1923.5L166.9 1915.7L172.8 1907.9L178.8 1900.2L184.7 1892.6L190.6 1885.2L196.5 1877.8L202.4 1870.5L208.3 1863.3L214.3 1856.1L220.2 1849.1L226.1 1842.2L232.0 1835.3L237.9 1828.6L243.8 1821.9L249.7 1815.3L255.7 1808.8L261.6 1802.3L267.5 1796.0L273.4 1789.7L279.3 1783.5L285.2 1777.4L291.2 1771.3L297.1 1765.4L303.0 1759.5L308.9 1753.7L314.8 1747.9L320.7 1742.2L326.7 1736.6L332.6 1731.1L338.5 1725.6L344.4 1720.2L350.3 1714.9L356.2 1709.7L362.1 1704.5L368.1 1699.3L374.0 1694.3L379.9 1689.3L385.8 1684.3L391.7 1679.4L397.6 1674.6L403.6 1669.9L409.5 1665.2L415.4 1660.5L421.3 1655.9L427.2 1651.4L433.1 1646.9L439.1 1642.5L445.0 1638.2L450.9 1633.9L456.8 1629.6L462.7 1625.4L468.6 1621.3L474.5 1617.2L480.5 1613.2L486.4 1609.2L492.3 1605.2L498.2 1601.3L504.1 1597.5L510.0 1593.7L516.0 1590.0L521.9 1586.3L527.8 1582.6L533.7 1579.0L539.6 1575.4L545.5 1571.9L551.5 1568.5L557.4 1565.0L563.3 1561.6L569.2 1558.3L575.1 1555.0L581.0 1551.7L587.0 1548.5L592.9 1545.3L598.8 1542.2L604.7 1539.1L610.6 1536.0L616.5 1533.0L622.4 1530.0L628.4 1527.1L634.3 1524.1L640.2 1521.3L646.1 1518.4L652.0 1515.6L657.9 1512.9L663.9 1510.1L669.8 1507.4L675.7 1504.8L681.6 1502.1L687.5 1499.5L693.4 1497.0L699.4 1494.4L705.3 1491.9L711.2 1489.4L717.1 1487.0L723.0 1484.6L728.9 1482.2L734.8 1479.9L740.8 1477.5L746.7 1475.2L752.6 1473.0L758.5 1470.7L764.4 1468.5L770.3 1466.4L776.3 1464.2L782.2 1462.1L788.1 1460.0L794.0 1457.9L799.9 1455.9L805.8 1453.8L811.8 1451.8L817.7 1449.9L823.6 1447.9L829.5 1446.0" stroke="#00ffff" stroke-width="6.4"/>
</g>
<defs><radialGradient id="sg" cx="0.4" cy="0.35" r="0.65"><stop offset="0" stop-color="#fff8ff"/><stop offset="0.55" stop-color="#f0c6f0"/><stop offset="1" stop-color="#d49cd6"/></radialGradient><filter id="semblur" x="-5%" y="-5%" width="110%" height="110%"><feGaussianBlur stdDeviation="0.7"/></filter><filter id="semnoise" x="0" y="0" width="100%" height="100%"><feTurbulence type="fractalNoise" baseFrequency="0.6" numOctaves="2" seed="3"/><feColorMatrix type="matrix" values="0 0 0 0 0.5  0 0 0 0 0.5  0 0 0 0 0.5  1.2 0 0 0 -0.1"/></filter></defs>
<rect x="627.2" y="1670.1" width="122.8" height="103.1" fill="#959595"/>
<rect x="627.2" y="1670.1" width="122.8" height="103.1" filter="url(#semnoise)" opacity="0.35"/>
<clipPath id="semclip"><rect x="627.2" y="1670.1" width="122.8" height="103.1"/></clipPath><g clip-path="url(#semclip)"><g filter="url(#semblur)">
<circle cx="644.2" cy="1681.2" r="4.4" fill="#767676"/><circle cx="643.3" cy="1680.2" r="4.3" fill="#c2c2c2"/><circle cx="643.5" cy="1680.4" r="2.0" fill="#9c9c9c"/>
<circle cx="662.3" cy="1681.2" r="4.4" fill="#767676"/><circle cx="661.4" cy="1680.2" r="4.3" fill="#c2c2c2"/><circle cx="661.6" cy="1680.4" r="2.0" fill="#9c9c9c"/>
<circle cx="699.6" cy="1681.2" r="4.4" fill="#767676"/><circle cx="698.7" cy="1680.2" r="4.3" fill="#c2c2c2"/><circle cx="698.9" cy="1680.4" r="2.0" fill="#9c9c9c"/>
<circle cx="717.7" cy="1681.2" r="4.4" fill="#767676"/><circle cx="716.8" cy="1680.2" r="4.3" fill="#c2c2c2"/><circle cx="717.0" cy="1680.4" r="2.0" fill="#9c9c9c"/>
<circle cx="738.8" cy="1681.2" r="4.4" fill="#767676"/><circle cx="737.9" cy="1680.2" r="4.3" fill="#c2c2c2"/><circle cx="738.1" cy="1680.4" r="2.0" fill="#9c9c9c"/>
<circle cx="636.1" cy="1698.3" r="4.4" fill="#767676"/><circle cx="635.2" cy="1697.3" r="4.3" fill="#c2c2c2"/><circle cx="635.4" cy="1697.5" r="2.0" fill="#9c9c9c"/>
<circle cx="653.6" cy="1698.3" r="4.4" fill="#767676"/><circle cx="652.7" cy="1697.3" r="4.3" fill="#c2c2c2"/><circle cx="652.9" cy="1697.5" r="2.0" fill="#9c9c9c"/>
<circle cx="671.4" cy="1698.3" r="4.4" fill="#767676"/><circle cx="670.5" cy="1697.3" r="4.3" fill="#c2c2c2"/><circle cx="670.7" cy="1697.5" r="2.0" fill="#9c9c9c"/>
<circle cx="690.5" cy="1698.3" r="4.4" fill="#767676"/><circle cx="689.6" cy="1697.3" r="4.3" fill="#c2c2c2"/><circle cx="689.8" cy="1697.5" r="2.0" fill="#9c9c9c"/>
<circle cx="708.6" cy="1698.3" r="4.4" fill="#767676"/><circle cx="707.7" cy="1697.3" r="4.3" fill="#c2c2c2"/><circle cx="707.9" cy="1697.5" r="2.0" fill="#9c9c9c"/>
<circle cx="732.8" cy="1698.3" r="4.4" fill="#767676"/><circle cx="731.9" cy="1697.3" r="4.3" fill="#c2c2c2"/><circle cx="732.1" cy="1697.5" r="2.0" fill="#9c9c9c"/>
<circle cx="645.2" cy="1716.4" r="4.4" fill="#767676"/><circle cx="644.3" cy="1715.4" r="4.3" fill="#c2c2c2"/><circle cx="644.5" cy="1715.6" r="2.0" fill="#9c9c9c"/>
<circle cx="663.3" cy="1716.4" r="4.4" fill="#767676"/><circle cx="662.4" cy="1715.4" r="4.3" fill="#c2c2c2"/><circle cx="662.6" cy="1715.6" r="2.0" fill="#9c9c9c"/>
<circle cx="681.4" cy="1716.4" r="4.4" fill="#767676"/><circle cx="680.5" cy="1715.4" r="4.3" fill="#c2c2c2"/><circle cx="680.7" cy="1715.6" r="2.0" fill="#9c9c9c"/>
<circle cx="700.6" cy="1716.4" r="4.4" fill="#767676"/><circle cx="699.7" cy="1715.4" r="4.3" fill="#c2c2c2"/><circle cx="699.9" cy="1715.6" r="2.0" fill="#9c9c9c"/>
<circle cx="723.7" cy="1716.4" r="4.4" fill="#767676"/><circle cx="722.8" cy="1715.4" r="4.3" fill="#c2c2c2"/><circle cx="723.0" cy="1715.6" r="2.0" fill="#9c9c9c"/>
<circle cx="742.8" cy="1716.4" r="4.4" fill="#767676"/><circle cx="741.9" cy="1715.4" r="4.3" fill="#c2c2c2"/><circle cx="742.1" cy="1715.6" r="2.0" fill="#9c9c9c"/>
<circle cx="654.3" cy="1733.5" r="4.4" fill="#767676"/><circle cx="653.4" cy="1732.5" r="4.3" fill="#c2c2c2"/><circle cx="653.6" cy="1732.7" r="2.0" fill="#9c9c9c"/>
<circle cx="672.4" cy="1733.5" r="4.4" fill="#767676"/><circle cx="671.5" cy="1732.5" r="4.3" fill="#c2c2c2"/><circle cx="671.7" cy="1732.7" r="2.0" fill="#9c9c9c"/>
<circle cx="691.5" cy="1733.5" r="4.4" fill="#767676"/><circle cx="690.6" cy="1732.5" r="4.3" fill="#c2c2c2"/><circle cx="690.8" cy="1732.7" r="2.0" fill="#9c9c9c"/>
<circle cx="709.6" cy="1733.5" r="4.4" fill="#767676"/><circle cx="708.7" cy="1732.5" r="4.3" fill="#c2c2c2"/><circle cx="708.9" cy="1732.7" r="2.0" fill="#9c9c9c"/>
<circle cx="733.8" cy="1733.5" r="4.4" fill="#767676"/><circle cx="732.9" cy="1732.5" r="4.3" fill="#c2c2c2"/><circle cx="733.1" cy="1732.7" r="2.0" fill="#9c9c9c"/>
<circle cx="646.2" cy="1751.7" r="4.4" fill="#767676"/><circle cx="645.3" cy="1750.7" r="4.3" fill="#c2c2c2"/><circle cx="645.5" cy="1750.9" r="2.0" fill="#9c9c9c"/>
<circle cx="664.3" cy="1751.7" r="4.4" fill="#767676"/><circle cx="663.4" cy="1750.7" r="4.3" fill="#c2c2c2"/><circle cx="663.6" cy="1750.9" r="2.0" fill="#9c9c9c"/>
<circle cx="682.4" cy="1751.7" r="4.4" fill="#767676"/><circle cx="681.5" cy="1750.7" r="4.3" fill="#c2c2c2"/><circle cx="681.7" cy="1750.9" r="2.0" fill="#9c9c9c"/>
<circle cx="701.6" cy="1751.7" r="4.4" fill="#767676"/><circle cx="700.7" cy="1750.7" r="4.3" fill="#c2c2c2"/><circle cx="700.9" cy="1750.9" r="2.0" fill="#9c9c9c"/>
<circle cx="718.7" cy="1751.7" r="4.4" fill="#767676"/><circle cx="717.8" cy="1750.7" r="4.3" fill="#c2c2c2"/><circle cx="718.0" cy="1750.9" r="2.0" fill="#9c9c9c"/>
<circle cx="742.8" cy="1751.7" r="4.4" fill="#767676"/><circle cx="741.9" cy="1750.7" r="4.3" fill="#c2c2c2"/><circle cx="742.1" cy="1750.9" r="2.0" fill="#9c9c9c"/>
<circle cx="635.1" cy="1769.8" r="4.4" fill="#767676"/><circle cx="634.2" cy="1768.8" r="4.3" fill="#c2c2c2"/><circle cx="634.4" cy="1769.0" r="2.0" fill="#9c9c9c"/>
<circle cx="654.3" cy="1769.8" r="4.4" fill="#767676"/><circle cx="653.4" cy="1768.8" r="4.3" fill="#c2c2c2"/><circle cx="653.6" cy="1769.0" r="2.0" fill="#9c9c9c"/>
<circle cx="673.4" cy="1769.8" r="4.4" fill="#767676"/><circle cx="672.5" cy="1768.8" r="4.3" fill="#c2c2c2"/><circle cx="672.7" cy="1769.0" r="2.0" fill="#9c9c9c"/>
<circle cx="691.5" cy="1769.8" r="4.4" fill="#767676"/><circle cx="690.6" cy="1768.8" r="4.3" fill="#c2c2c2"/><circle cx="690.8" cy="1769.0" r="2.0" fill="#9c9c9c"/>
<circle cx="709.6" cy="1769.8" r="4.4" fill="#767676"/><circle cx="708.7" cy="1768.8" r="4.3" fill="#c2c2c2"/><circle cx="708.9" cy="1769.0" r="2.0" fill="#9c9c9c"/>
<circle cx="727.7" cy="1769.8" r="4.4" fill="#767676"/><circle cx="726.8" cy="1768.8" r="4.3" fill="#c2c2c2"/><circle cx="727.0" cy="1769.0" r="2.0" fill="#9c9c9c"/>
</g></g>
<text x="665.2" y="1678.5" font-size="8" fill="#ff0000">100 nm</text>
<rect x="674.5" y="1680.2" width="10" height="2.2" fill="#ff0000"/>
<text x="668.3" y="1696.8" font-size="8" fill="#0000ff">100 nm</text>
<rect x="674.9" y="1697.3" width="9.7" height="3" fill="#0000ff"/>
<polygon points="486.7,1970.0 412.3,1923.6 411.5,1895.1 487.0,1939.3" fill="#8e8e8e"/>
<polygon points="486.7,1970.0 531.0,1940.0 531.5,1911.9 487.0,1939.3" fill="#a3a3a3"/>
<polygon points="487.0,1939.3 411.5,1895.1 411.0,1885.6 487.2,1929.2" fill="#3f68c4"/>
<polygon points="487.0,1939.3 531.5,1911.9 532.0,1902.4 487.2,1929.2" fill="#4a78d2"/>
<polygon points="487.2,1929.2 411.0,1885.6 409.4,1851.5 489.0,1889.0" fill="#0b7a26"/>
<polygon points="487.2,1929.2 532.0,1902.4 537.5,1860.0 489.0,1889.0" fill="#128a2e"/>
<polygon points="409.4,1851.5 428.2,1860.4 434.0,1846.0 416.0,1838.0" fill="#1aa83a"/>
<polygon points="409.4,1851.5 422.5,1855.5 422.5,1848.0 409.4,1844.0" fill="#f0e88c"/>
<polygon points="409.4,1844.0 422.5,1848.0 428.0,1837.0 415.0,1833.0" fill="#fffff4" stroke="#bbb" stroke-width="0.4"/>
<circle cx="425.5" cy="1852.5" r="4.2" fill="url(#sg)"/>
<polygon points="489.0,1889.0 428.2,1860.4 428.2,1852.0 489.5,1882.0" fill="#2e2e2e"/>
<polygon points="489.0,1889.0 537.5,1860.0 538.5,1855.6 489.5,1882.0" fill="#3c3c3c"/>
<polygon points="489.5,1882.0 428.2,1852.0 428.2,1840.3 490.2,1870.6" fill="#a4c29c"/>
<polygon points="489.5,1882.0 538.5,1855.6 539.2,1842.9 490.2,1870.6" fill="#b4d2aa"/>
<polygon points="490.2,1870.6 428.2,1840.3 428.2,1833.5 490.8,1864.2" fill="#5cb8ac"/>
<polygon points="490.2,1870.6 539.2,1842.9 539.7,1838.2 490.8,1864.2" fill="#6ec8bc"/>
<path d="M428.2 1856.2L489.2 1885.5L538.0 1857.8" stroke="#666" stroke-width="1.1" fill="none"/>
<path d="M428.2 1840.3L490.2 1870.6L539.2 1842.9" stroke="#3050d0" stroke-width="0.7" fill="none"/>
<polygon points="490.8,1864.2 428.2,1833.5 477.1,1807.5 539.7,1838.2" fill="#a6f2f0"/>
<circle cx="477.7" cy="1806.6" r="4.75" fill="url(#sg)" stroke="#c9a0c9" stroke-width="0.3"/>
<circle cx="486.3" cy="1810.8" r="4.75" fill="url(#sg)" stroke="#c9a0c9" stroke-width="0.3"/>
<circle cx="469.6" cy="1810.8" r="4.75" fill="url(#sg)" stroke="#c9a0c9" stroke-width="0.3"/>
<circle cx="494.9" cy="1815.0" r="4.75" fill="url(#sg)" stroke="#c9a0c9" stroke-width="0.3"/>
<circle cx="478.2" cy="1815.0" r="4.75" fill="url(#sg)" stroke="#c9a0c9" stroke-width="0.3"/>
<circle cx="461.6" cy="1815.1" r="4.75" fill="url(#sg)" stroke="#c9a0c9" stroke-width="0.3"/>
<circle cx="503.4" cy="1819.2" r="4.75" fill="url(#sg)" stroke="#c9a0c9" stroke-width="0.3"/>
<circle cx="486.8" cy="1819.3" r="4.75" fill="url(#sg)" stroke="#c9a0c9" stroke-width="0.3"/>
<circle cx="470.2" cy="1819.3" r="4.75" fill="url(#sg)" stroke="#c9a0c9" stroke-width="0.3"/>
<circle cx="453.5" cy="1819.4" r="4.75" fill="url(#sg)" stroke="#c9a0c9" stroke-width="0.3"/>
<circle cx="512.0" cy="1823.4" r="4.75" fill="url(#sg)" stroke="#c9a0c9" stroke-width="0.3"/>
<circle cx="495.4" cy="1823.5" r="4.75" fill="url(#sg)" stroke="#c9a0c9" stroke-width="0.3"/>
<circle cx="478.7" cy="1823.5" r="4.75" fill="url(#sg)" stroke="#c9a0c9" stroke-width="0.3"/>
<circle cx="462.1" cy="1823.6" r="4.75" fill="url(#sg)" stroke="#c9a0c9" stroke-width="0.3"/>
<circle cx="445.4" cy="1823.7" r="4.75" fill="url(#sg)" stroke="#c9a0c9" stroke-width="0.3"/>
<circle cx="520.6" cy="1827.6" r="4.75" fill="url(#sg)" stroke="#c9a0c9" stroke-width="0.3"/>
<circle cx="504.0" cy="1827.7" r="4.75" fill="url(#sg)" stroke="#c9a0c9" stroke-width="0.3"/>
<circle cx="487.3" cy="1827.7" r="4.75" fill="url(#sg)" stroke="#c9a0c9" stroke-width="0.3"/>
<circle cx="470.7" cy="1827.8" r="4.75" fill="url(#sg)" stroke="#c9a0c9" stroke-width="0.3"/>
<circle cx="454.0" cy="1827.9" r="4.75" fill="url(#sg)" stroke="#c9a0c9" stroke-width="0.3"/>
<circle cx="437.4" cy="1828.0" r="4.75" fill="url(#sg)" stroke="#c9a0c9" stroke-width="0.3"/>
<circle cx="512.5" cy="1831.9" r="4.75" fill="url(#sg)" stroke="#c9a0c9" stroke-width="0.3"/>
<circle cx="495.9" cy="1832.0" r="4.75" fill="url(#sg)" stroke="#c9a0c9" stroke-width="0.3"/>
<circle cx="479.2" cy="1832.0" r="4.75" fill="url(#sg)" stroke="#c9a0c9" stroke-width="0.3"/>
<circle cx="462.6" cy="1832.1" r="4.75" fill="url(#sg)" stroke="#c9a0c9" stroke-width="0.3"/>
<circle cx="446.0" cy="1832.2" r="4.75" fill="url(#sg)" stroke="#c9a0c9" stroke-width="0.3"/>
<circle cx="504.5" cy="1836.2" r="4.75" fill="url(#sg)" stroke="#c9a0c9" stroke-width="0.3"/>
<circle cx="487.8" cy="1836.2" r="4.75" fill="url(#sg)" stroke="#c9a0c9" stroke-width="0.3"/>
<circle cx="471.2" cy="1836.3" r="4.75" fill="url(#sg)" stroke="#c9a0c9" stroke-width="0.3"/>
<circle cx="454.5" cy="1836.4" r="4.75" fill="url(#sg)" stroke="#c9a0c9" stroke-width="0.3"/>
<circle cx="496.4" cy="1840.5" r="4.75" fill="url(#sg)" stroke="#c9a0c9" stroke-width="0.3"/>
<circle cx="479.7" cy="1840.5" r="4.75" fill="url(#sg)" stroke="#c9a0c9" stroke-width="0.3"/>
<circle cx="463.1" cy="1840.6" r="4.75" fill="url(#sg)" stroke="#c9a0c9" stroke-width="0.3"/>
<circle cx="488.3" cy="1844.7" r="4.75" fill="url(#sg)" stroke="#c9a0c9" stroke-width="0.3"/>
<circle cx="471.7" cy="1844.8" r="4.75" fill="url(#sg)" stroke="#c9a0c9" stroke-width="0.3"/>
<circle cx="480.3" cy="1849.0" r="4.75" fill="url(#sg)" stroke="#c9a0c9" stroke-width="0.3"/>
<polygon points="490.8,1864.2 480.8,1859.3 480.8,1854.3 490.8,1859.2" fill="#efe57e"/>
<polygon points="490.8,1864.2 539.7,1838.2 539.7,1835.6 490.8,1859.2" fill="#f6ee9c"/>
<polygon points="490.8,1859.2 480.8,1854.3 529.7,1830.7 539.7,1835.6" fill="#fffff2" stroke="#c8c8b8" stroke-width="0.4"/>
<path d="M486.7 1970.0L490.8 1864.2" stroke="#555" stroke-width="0.5"/>
<polygon points="702.9,1967.0 628.5,1920.6 627.7,1892.1 703.2,1936.3" fill="#8e8e8e"/>
<polygon points="702.9,1967.0 747.2,1937.0 747.7,1908.9 703.2,1936.3" fill="#a3a3a3"/>
<polygon points="703.2,1936.3 627.7,1892.1 627.2,1882.6 703.4,1926.2" fill="#3f68c4"/>
<polygon points="703.2,1936.3 747.7,1908.9 748.2,1899.4 703.4,1926.2" fill="#4a78d2"/>
<polygon points="703.4,1926.2 627.2,1882.6 625.6,1848.5 705.2,1886.0" fill="#0b7a26"/>
<polygon points="703.4,1926.2 748.2,1899.4 753.7,1857.0 705.2,1886.0" fill="#128a2e"/>
<polygon points="625.6,1848.5 644.4,1857.4 650.2,1843.0 632.2,1835.0" fill="#1aa83a"/>
<polygon points="625.6,1848.5 638.7,1852.5 638.7,1845.0 625.6,1841.0" fill="#f0e88c"/>
<polygon points="625.6,1841.0 638.7,1845.0 644.2,1834.0 631.2,1830.0" fill="#fffff4" stroke="#bbb" stroke-width="0.4"/>
<circle cx="641.7" cy="1849.5" r="4.2" fill="url(#sg)"/>
<polygon points="705.2,1886.0 644.4,1857.4 644.4,1849.0 705.7,1879.0" fill="#2e2e2e"/>
<polygon points="705.2,1886.0 753.7,1857.0 754.7,1852.6 705.7,1879.0" fill="#3c3c3c"/>
<polygon points="705.7,1879.0 644.4,1849.0 644.4,1837.3 706.4,1867.6" fill="#a4c29c"/>
<polygon points="705.7,1879.0 754.7,1852.6 755.4,1839.9 706.4,1867.6" fill="#b4d2aa"/>
<polygon points="706.4,1867.6 644.4,1837.3 644.4,1830.5 707.0,1861.2" fill="#5cb8ac"/>
<polygon points="706.4,1867.6 755.4,1839.9 755.9,1835.2 707.0,1861.2" fill="#6ec8bc"/>
<path d="M644.4 1853.2L705.4 1882.5L754.2 1854.8" stroke="#666" stroke-width="1.1" fill="none"/>
<path d="M644.4 1837.3L706.4 1867.6L755.4 1839.9" stroke="#3050d0" stroke-width="0.7" fill="none"/>
<polygon points="707.0,1861.2 644.4,1830.5 693.3,1804.5 755.9,1835.2" fill="#a6f2f0"/>
<circle cx="686.4" cy="1804.9" r="5.10" fill="url(#sg)" stroke="#c9a0c9" stroke-width="0.3"/>
<circle cx="702.0" cy="1804.9" r="5.10" fill="url(#sg)" stroke="#c9a0c9" stroke-width="0.3"/>
<circle cx="669.9" cy="1813.5" r="5.10" fill="url(#sg)" stroke="#c9a0c9" stroke-width="0.3"/>
<circle cx="686.4" cy="1813.5" r="5.10" fill="url(#sg)" stroke="#c9a0c9" stroke-width="0.3"/>
<circle cx="702.0" cy="1813.5" r="5.10" fill="url(#sg)" stroke="#c9a0c9" stroke-width="0.3"/>
<circle cx="718.5" cy="1813.5" r="5.10" fill="url(#sg)" stroke="#c9a0c9" stroke-width="0.3"/>
<circle cx="669.9" cy="1821.3" r="5.10" fill="url(#sg)" stroke="#c9a0c9" stroke-width="0.3"/>
<circle cx="686.4" cy="1821.3" r="5.10" fill="url(#sg)" stroke="#c9a0c9" stroke-width="0.3"/>
<circle cx="702.0" cy="1821.3" r="5.10" fill="url(#sg)" stroke="#c9a0c9" stroke-width="0.3"/>
<circle cx="718.5" cy="1821.3" r="5.10" fill="url(#sg)" stroke="#c9a0c9" stroke-width="0.3"/>
<circle cx="653.5" cy="1822.1" r="5.10" fill="url(#sg)" stroke="#c9a0c9" stroke-width="0.3"/>
<circle cx="730.2" cy="1822.1" r="5.10" fill="url(#sg)" stroke="#c9a0c9" stroke-width="0.3"/>
<circle cx="669.9" cy="1829.9" r="5.10" fill="url(#sg)" stroke="#c9a0c9" stroke-width="0.3"/>
<circle cx="686.4" cy="1829.9" r="5.10" fill="url(#sg)" stroke="#c9a0c9" stroke-width="0.3"/>
<circle cx="702.0" cy="1829.9" r="5.10" fill="url(#sg)" stroke="#c9a0c9" stroke-width="0.3"/>
<circle cx="718.5" cy="1829.9" r="5.10" fill="url(#sg)" stroke="#c9a0c9" stroke-width="0.3"/>
<circle cx="702.0" cy="1839.3" r="5.10" fill="url(#sg)" stroke="#c9a0c9" stroke-width="0.3"/>
<circle cx="686.4" cy="1840.1" r="5.10" fill="url(#sg)" stroke="#c9a0c9" stroke-width="0.3"/>
<polygon points="707.0,1861.2 697.0,1856.3 697.0,1851.3 707.0,1856.2" fill="#efe57e"/>
<polygon points="707.0,1861.2 755.9,1835.2 755.9,1832.6 707.0,1856.2" fill="#f6ee9c"/>
<polygon points="707.0,1856.2 697.0,1851.3 745.9,1827.7 755.9,1832.6" fill="#fffff2" stroke="#c8c8b8" stroke-width="0.4"/>
<path d="M702.9 1967.0L707.0 1861.2" stroke="#555" stroke-width="0.5"/>
<ellipse cx="690.3" cy="1822.1" rx="47" ry="12.6" fill="none" stroke="#ff0000" stroke-width="3.2" stroke-dasharray="11 6"/>
<path d="M648.3 1817.1L624 1780" stroke="#ff0000" stroke-width="3.4" stroke-dasharray="10 6"/>
<path d="M618.1 1770.8L628.5 1778.5L620.5 1783.5Z" fill="#ff0000"/>
<path d="M732.9 1811L752 1779" stroke="#ff0000" stroke-width="3.4" stroke-dasharray="10 6"/>
<path d="M757 1769.8L756 1782L748 1777.5Z" fill="#ff0000"/>
<text x="534.9" y="1823.6" font-size="7.4" stroke="#000" stroke-width="0.4">PS spheres</text>
<path d="M521.7 1826.6L529.5 1822.5" stroke="#000" stroke-width="1.6"/>
<text x="547.3" y="1833.7" font-size="7.4" stroke="#000" stroke-width="0.4">p-metal</text>
<path d="M535.7 1834.8L542.4 1831.0" stroke="#000" stroke-width="1.6"/>
<text x="547.1" y="1842.4" font-size="7.4" stroke="#000" stroke-width="0.4">ITO</text>
<path d="M536.3 1843.0L543.0 1839.3" stroke="#000" stroke-width="1.6"/>
<text x="547.1" y="1849.9" font-size="7.4" stroke="#000" stroke-width="0.4">p-GaN</text>
<path d="M535.7 1851.2L542.4 1847.8" stroke="#000" stroke-width="1.6"/>
<text x="545.0" y="1863.9" font-size="7.4" stroke="#000" stroke-width="0.4">InGaN/GaN MQWs</text>
<path d="M535.1 1861.8L542.4 1861.8" stroke="#000" stroke-width="1.6"/>
<text x="542.8" y="1890.3" font-size="7.4" stroke="#000" stroke-width="0.4">n-GaN</text>
<path d="M531.2 1889.0L538.7 1889.0" stroke="#000" stroke-width="1.6"/>
<text x="541.5" y="1908.8" font-size="7.4" stroke="#000" stroke-width="0.4">GaN buffer layer</text>
<path d="M530.1 1907.4L537.9 1907.4" stroke="#000" stroke-width="1.6"/>
<text x="538.6" y="1932.6" font-size="7.4" stroke="#000" stroke-width="0.4">Sapphire substrate</text>
<path d="M527.3 1931.2L535.7 1931.2" stroke="#000" stroke-width="1.6"/>
<text x="390.1" y="1837.3" font-size="7.4" stroke="#000" stroke-width="0.4">n-metal</text>
<path d="M407.1 1841.5L415.1 1845.8" stroke="#000" stroke-width="1.6"/>
<text x="748.0" y="1819.3" font-size="7.4" stroke="#000" stroke-width="0.4">PS spheres</text>
<path d="M738.9 1821.6L744.5 1818.2" stroke="#000" stroke-width="1.6"/>
<text x="760.1" y="1826.8" font-size="7.4" stroke="#000" stroke-width="0.4">p-metal</text>
<path d="M751.6 1828.7L757.9 1824.6" stroke="#000" stroke-width="1.6"/>
<text x="762.1" y="1835.0" font-size="7.4" stroke="#000" stroke-width="0.4">ITO</text>
<path d="M752.9 1835.8L759.0 1832.4" stroke="#000" stroke-width="1.6"/>
<text x="761.7" y="1845.5" font-size="7.4" stroke="#000" stroke-width="0.4">p-GaN</text>
<path d="M751.8 1846.4L758.5 1842.8" stroke="#000" stroke-width="1.6"/>
<text x="761.4" y="1860.9" font-size="7.4" stroke="#000" stroke-width="0.4">InGaN/GaN MQWs</text>
<path d="M751.8 1858.5L757.9 1858.5" stroke="#000" stroke-width="1.6"/>
<text x="760.0" y="1886.2" font-size="7.4" stroke="#000" stroke-width="0.4">n-GaN</text>
<path d="M748.2 1884.3L755.7 1884.3" stroke="#000" stroke-width="1.6"/>
<text x="759.1" y="1905.6" font-size="7.4" stroke="#000" stroke-width="0.4">GaN buffer layer</text>
<path d="M747.3 1903.0L754.9 1903.0" stroke="#000" stroke-width="1.6"/>
<text x="757.5" y="1928.7" font-size="7.4" stroke="#000" stroke-width="0.4">Sapphire substrate</text>
<path d="M745.6 1926.5L752.9 1926.5" stroke="#000" stroke-width="1.6"/>
<text x="603.8" y="1833.2" font-size="7.4" stroke="#000" stroke-width="0.4">n-metal</text>
<path d="M622.0 1835.8L629.1 1840.1" stroke="#000" stroke-width="1.6"/>
<text x="480.3" y="1978.8" font-size="11" stroke="#000" stroke-width="0.3">(a)</text>
<text x="697.2" y="1976.8" font-size="11" stroke="#000" stroke-width="0.3">(b)</text>
<rect x="119.6" y="1458.7" width="709.9" height="522.8" fill="none" stroke="#000" stroke-width="4"/>
<text class="m" transform="translate(91.04 1991.41) scale(1.0000 1)" font-size="33.90">0</text>
<text class="m" transform="translate(74.09 1904.27) scale(1.0000 1)" font-size="33.90">50</text>
<text class="m" transform="translate(57.14 1817.14) scale(1.0000 1)" font-size="33.90">100</text>
<text class="m" transform="translate(57.14 1730.01) scale(1.0000 1)" font-size="33.90">150</text>
<text class="m" transform="translate(57.14 1642.87) scale(1.0000 1)" font-size="33.90">200</text>
<text class="m" transform="translate(57.14 1555.74) scale(1.0000 1)" font-size="33.90">250</text>
<text class="m" transform="translate(57.14 1468.61) scale(1.0000 1)" font-size="33.90">300</text>
<text class="m" transform="translate(110.95 2019.86) scale(0.9800 1)" font-size="35.30">0</text>
<text class="m" transform="translate(219.89 2019.86) scale(0.9800 1)" font-size="35.30">10</text>
<text class="m" transform="translate(338.87 2019.86) scale(0.9800 1)" font-size="35.30">20</text>
<text class="m" transform="translate(457.26 2019.86) scale(0.9800 1)" font-size="35.30">30</text>
<text class="m" transform="translate(575.99 2019.86) scale(0.9800 1)" font-size="35.30">40</text>
<text class="m" transform="translate(693.85 2019.86) scale(0.9800 1)" font-size="35.30">50</text>
<text class="m" transform="translate(812.27 2019.86) scale(0.9800 1)" font-size="35.30">60</text>
<path d="M119.6 1981.5H129.7M119.6 1894.4H129.7M119.6 1807.2H129.7M119.6 1720.1H129.7M119.6 1633.0H129.7M119.6 1545.8H129.7M119.6 1458.7H129.7M119.6 1981.5V1971M237.9 1981.5V1971M356.2 1981.5V1971M474.5 1981.5V1971M592.9 1981.5V1971M711.2 1981.5V1971M829.5 1981.5V1971" stroke="#000" stroke-width="4"/>
<text class="m" transform="translate(284.73 2064.00) scale(1.0326 1)" font-size="36.60">Injection Current (mA)</text>
<text class="m" transform="translate(25.80 1951.55) rotate(-90) scale(0.9836 1)" font-size="38.50">Light Output Intensity(mcd)</text>
<path d="M132.9 1488.0H191.5" stroke="#00ff00" stroke-width="6"/>
<text class="m" transform="translate(198.13 1496.70) scale(0.9850 1)" font-size="28.50">Conventional LED</text>
<path d="M132.9 1523.0H191.5" stroke="#ff8000" stroke-width="6"/>
<text class="m" transform="translate(199.02 1531.70) scale(0.9850 1)" font-size="28.50">Period = 0 nm</text>
<path d="M132.9 1558.0H191.5" stroke="#00ffff" stroke-width="6"/>
<text class="m" transform="translate(199.02 1566.70) scale(0.9850 1)" font-size="28.50">Period = 100 nm</text>
</svg></body></html>
